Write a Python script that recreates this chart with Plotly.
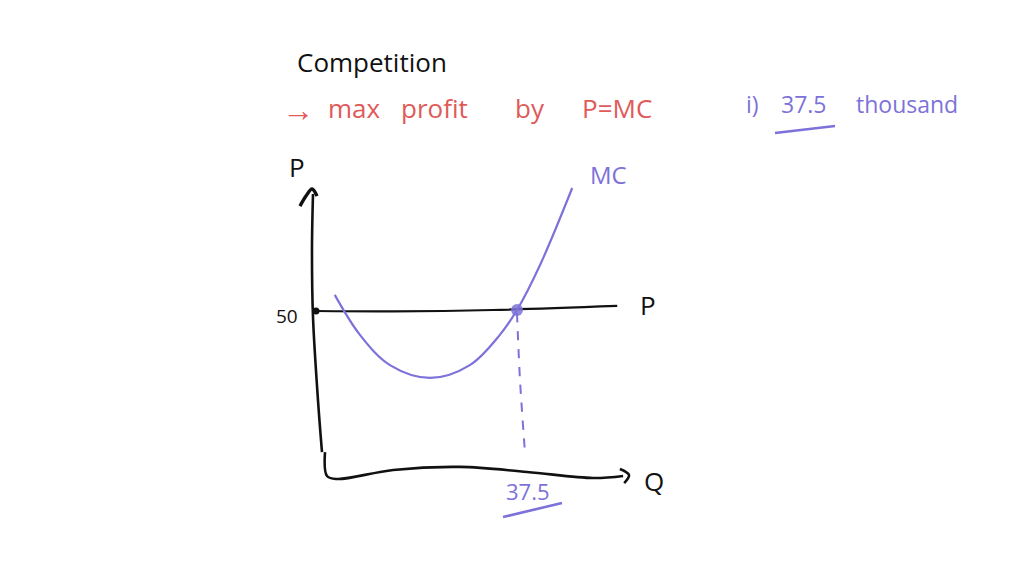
import plotly.graph_objects as go

# pixel layout -> data units (Q in thousands, P in dollars)
# the page body adds an 8px margin, so the origin is shifted back by it
OFF = 8
X0, Y0, SX, SY = 316 - OFF, 478 - OFF, 5.36, 3.36
W, H = 1024, 576

# MC curve
mc_q = [3.5, 8.2, 13.8, 21.3, 28.7, 34.3, 37.5, 41.8, 47.8]
mc_p = [54.5, 42.6, 33.6, 29.8, 33.6, 42.6, 50.0, 63.4, 86.3]

# price line P = 50
price_q = [0.0, 14.4, 33.0, 56.2]
price_p = [49.7, 49.6, 50.0, 51.2]

# hand-drawn axes
yaxis_q = [-0.56, -0.75, -0.56, 0.37, 1.12]
yaxis_p = [84.5, 67.9, 47.9, 23.2, 7.7]
yarrow_q = [-2.99, -1.87, -0.75, 0.19]
yarrow_p = [80.9, 83.9, 86.0, 83.9]
xaxis_q = [1.68, 2.05, 3.92, 14.4, 26.9, 39.4, 51.7, 57.3]
xaxis_p = [7.7, 0.6, -0.3, 2.4, 3.3, 1.8, 0.0, 0.6]
xarrow_q = [56.7, 58.4, 57.5]
xarrow_p = [2.7, 0.9, -1.5]

# dashed drop line to the quantity axis
drop_q = [37.5, 38.06, 39.0]
drop_p = [49.1, 29.2, 7.4]

q_star = 37.5
p_star = 50

BLUE = "#7d72d9"
RED = "#e05a5a"
BLACK = "#111111"
FONT = "Open Sans"

fig = go.Figure()


def line(x, y, color, width=2.2, dash="solid", shape="spline"):
    fig.add_trace(go.Scatter(x=x, y=y, mode="lines", showlegend=False, hoverinfo="skip",
                             line=dict(color=color, width=width, dash=dash, shape=shape)))


line(yaxis_q, yaxis_p, BLACK, 2.6)
line(yarrow_q, yarrow_p, BLACK, 3.4)
line(xaxis_q, xaxis_p, BLACK, 2.6)
line(xarrow_q, xarrow_p, BLACK, 2.6)
line(price_q, price_p, BLACK, 2.2)
line(mc_q, mc_p, BLUE, 2.2)
line(drop_q, drop_p, BLUE, 2, dash="dash")

fig.add_trace(go.Scatter(x=[0], y=[p_star - 0.3], mode="markers", showlegend=False,
                         marker=dict(color=BLACK, size=7)))
fig.add_trace(go.Scatter(x=[q_star], y=[p_star], mode="markers", showlegend=False,
                         marker=dict(color=BLUE, size=12, opacity=0.85)))


def px(x):
    return (x - OFF) / W


def py(y):
    return 1 - (y - OFF) / H


def note(text, x, y, color, size, xanchor="center"):
    fig.add_annotation(text=text, x=px(x), y=py(y), xref="paper", yref="paper",
                       showarrow=False, xanchor=xanchor, yanchor="middle",
                       font=dict(family=FONT, size=size, color=color))


# header
note("Competition", 372, 62, BLACK, 26)
red_words = ["→", "max", "profit", "by", "P=MC"]
red_x = [298, 354, 434, 530, 617]
red_size = [32, 26, 26, 26, 26]
for w, x, s in zip(red_words, red_x, red_size):
    note(w, x, 108, RED, s)
blue_words = ["i)", "37.5", "thousand"]
blue_x = [752, 804, 907]
for w, x in zip(blue_words, blue_x):
    note(w, x, 104, BLUE, 23)

# chart labels
note("P", 297, 167, BLACK, 26)
note("P", 648, 305, BLACK, 26)
note("Q", 654, 481, BLACK, 26)
note("MC", 608, 174, BLUE, 24)
note("50", 287, 316, BLACK, 19)
note("37.5", 528, 491, BLUE, 22)

# underlines
fig.add_shape(type="line", xref="paper", yref="paper",
              x0=px(775), y0=py(133), x1=px(835), y1=py(126),
              line=dict(color=BLUE, width=2.6))
fig.add_shape(type="line", xref="paper", yref="paper",
              x0=px(503), y0=py(517), x1=px(562), y1=py(503),
              line=dict(color=BLUE, width=2.6))

fig.update_layout(
    width=W, height=H,
    margin=dict(l=0, r=0, t=0, b=0),
    paper_bgcolor="white", plot_bgcolor="white",
    xaxis=dict(range=[-X0 / SX, (W - X0) / SX], visible=False, fixedrange=True),
    yaxis=dict(range=[(Y0 - H) / SY, Y0 / SY], visible=False, fixedrange=True),
    showlegend=False,
)

fig.write_html("out.html")
